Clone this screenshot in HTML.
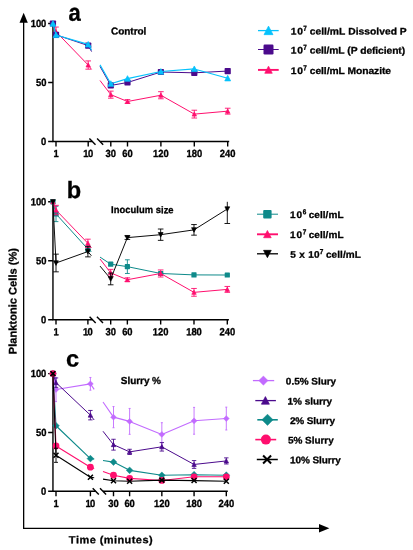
<!DOCTYPE html>
<html lang="en"><head><meta charset="utf-8"><title>Planktonic cells over time</title>
<style>html,body{margin:0;padding:0;background:#fff}svg{display:block;filter:blur(0.3px)}text{font-family:'Liberation Sans', sans-serif;fill:#000;stroke:#000;stroke-width:0.3px;font-weight:bold;font-kerning:none;white-space:pre}</style>
</head><body>
<svg width="413" height="550" viewBox="0 0 413 550">
<rect width="413" height="550" fill="#fff"/>
<g stroke="#000" stroke-width="1.3" fill="none"><path d="M23.65 21V528.35H320"/></g>
<path d="M23.65 12.7L27.8 22.8H19.5Z" fill="#000"/>
<path d="M329.4 528.3L319 532.6V524Z" fill="#000"/>
<text transform="translate(16.6 353.7) rotate(-90.03)" x="-0.49" y="0" font-size="11" letter-spacing="0.055">Planktonic Cells (%)</text>
<text transform="translate(68.83 543.2) rotate(0.03) scale(1 0.93)" font-size="11" letter-spacing="0.434">Time (minutes)</text>
<g stroke="#000" stroke-width="1.4" fill="none"><path d="M52.95 23V141.5" /><path d="M52.45 141.5H92.4M100.1 141.5H229.2" /><path d="M89.4 138.5L95.5 144.8" /><path d="M97.1 138.5L103.2 144.8" /><path d="M56 141.5v4.9M88.2 141.5v4.9M110.8 141.5v4.9M127.5 141.5v4.9M160.9 141.5v4.9M194.3 141.5v4.9M227.7 141.5v4.9M52.95 141.5h-4.8M52.95 82.5h-4.8M52.95 23.5h-4.8" /></g>
<g font-size="9.4"><text transform="translate(56 157.1) rotate(0.03) scale(1 1.1)" text-anchor="middle">1</text><text transform="translate(87.9 157.1) rotate(0.03) scale(1 1.1)" text-anchor="middle" letter-spacing="-0.6">10</text><text transform="translate(110.8 157.1) rotate(0.03) scale(1 1.1)" text-anchor="middle">30</text><text transform="translate(127.5 157.1) rotate(0.03) scale(1 1.1)" text-anchor="middle">60</text><text transform="translate(160.9 157.1) rotate(0.03) scale(1 1.1)" text-anchor="middle">120</text><text transform="translate(194.3 157.1) rotate(0.03) scale(1 1.1)" text-anchor="middle">180</text><text transform="translate(227.7 157.1) rotate(0.03) scale(1 1.1)" text-anchor="middle">240</text><text transform="translate(46.35 145) rotate(0.03) scale(1 1.1)" text-anchor="end">0</text><text transform="translate(46.35 86) rotate(0.03) scale(1 1.1)" text-anchor="end">50</text><text transform="translate(46.35 27) rotate(0.03) scale(1 1.1)" text-anchor="end">100</text></g>
<g><path d="M56 27.04V36.48M53.2 27.04h5.6M53.2 36.48h5.6M88.2 60.91V69.17M85.4 60.91h5.6M85.4 69.17h5.6M110.8 91.11V98.19M108 91.11h5.6M108 98.19h5.6M127.5 99.61V103.39M124.7 99.61h5.6M124.7 103.39h5.6M160.9 91.7V98.78M158.1 91.7h5.6M158.1 98.78h5.6M194.3 110.23V118.02M191.5 110.23h5.6M191.5 118.02h5.6M227.7 108.22V114.12M224.9 108.22h5.6M224.9 114.12h5.6" stroke="#FF0F6E" stroke-width="0.9" fill="none"/><path d="M52.95 23.5L56 31.76L88.2 65.04L91.6 69.49M100 80.5L110.8 94.65L127.5 101.5L160.9 95.24L194.3 114.12L227.7 111.17" stroke="#FF0F6E" stroke-width="1.0" fill="none" stroke-linejoin="round"/><path d="M50.75 25.48L55.15 25.48L52.95 21.3Z" fill="#FF0F6E" stroke="#FF0F6E" stroke-width="0.7" stroke-linejoin="round"/><path d="M53.8 33.74L58.2 33.74L56 29.56Z" fill="#FF0F6E" stroke="#FF0F6E" stroke-width="0.7" stroke-linejoin="round"/><path d="M86 67.02L90.4 67.02L88.2 62.84Z" fill="#FF0F6E" stroke="#FF0F6E" stroke-width="0.7" stroke-linejoin="round"/><path d="M108.6 96.63L113 96.63L110.8 92.45Z" fill="#FF0F6E" stroke="#FF0F6E" stroke-width="0.7" stroke-linejoin="round"/><path d="M125.3 103.48L129.7 103.48L127.5 99.3Z" fill="#FF0F6E" stroke="#FF0F6E" stroke-width="0.7" stroke-linejoin="round"/><path d="M158.7 97.22L163.1 97.22L160.9 93.04Z" fill="#FF0F6E" stroke="#FF0F6E" stroke-width="0.7" stroke-linejoin="round"/><path d="M192.1 116.1L196.5 116.1L194.3 111.92Z" fill="#FF0F6E" stroke="#FF0F6E" stroke-width="0.7" stroke-linejoin="round"/><path d="M225.5 113.15L229.9 113.15L227.7 108.97Z" fill="#FF0F6E" stroke="#FF0F6E" stroke-width="0.7" stroke-linejoin="round"/></g>
<g><path d="M52.95 23.5L56 34.83L88.2 45.57L91.6 51.57M100 66.39L110.8 85.45L127.5 82.5L160.9 72L194.3 72.82L227.7 71.05" stroke="#4B0A8C" stroke-width="1.0" fill="none" stroke-linejoin="round"/><rect x="49.85" y="20.4" width="6.2" height="6.2" rx="0.74" fill="#4B0A8C"/><rect x="52.9" y="31.73" width="6.2" height="6.2" rx="0.74" fill="#4B0A8C"/><rect x="85.1" y="42.47" width="6.2" height="6.2" rx="0.74" fill="#4B0A8C"/><rect x="107.7" y="82.35" width="6.2" height="6.2" rx="0.74" fill="#4B0A8C"/><rect x="124.4" y="79.4" width="6.2" height="6.2" rx="0.74" fill="#4B0A8C"/><rect x="157.8" y="68.9" width="6.2" height="6.2" rx="0.74" fill="#4B0A8C"/><rect x="191.2" y="69.72" width="6.2" height="6.2" rx="0.74" fill="#4B0A8C"/><rect x="224.6" y="67.95" width="6.2" height="6.2" rx="0.74" fill="#4B0A8C"/></g>
<g><path d="M52.95 23.5L56 34.95L88.2 44.39L91.6 50.3M100 64.9L110.8 83.68L127.5 78.61L160.9 71.53L194.3 68.93L227.7 78.25" stroke="#06C2FC" stroke-width="1.15" fill="none" stroke-linejoin="round"/><path d="M50 26.16L55.9 26.16L52.95 20.55Z" fill="#06C2FC" stroke="#06C2FC" stroke-width="0.7" stroke-linejoin="round"/><path d="M53.05 37.6L58.95 37.6L56 32Z" fill="#06C2FC" stroke="#06C2FC" stroke-width="0.7" stroke-linejoin="round"/><path d="M85.25 47.04L91.15 47.04L88.2 41.44Z" fill="#06C2FC" stroke="#06C2FC" stroke-width="0.7" stroke-linejoin="round"/><path d="M107.85 86.34L113.75 86.34L110.8 80.73Z" fill="#06C2FC" stroke="#06C2FC" stroke-width="0.7" stroke-linejoin="round"/><path d="M124.55 81.26L130.45 81.26L127.5 75.66Z" fill="#06C2FC" stroke="#06C2FC" stroke-width="0.7" stroke-linejoin="round"/><path d="M157.95 74.18L163.85 74.18L160.9 68.58Z" fill="#06C2FC" stroke="#06C2FC" stroke-width="0.7" stroke-linejoin="round"/><path d="M191.35 71.59L197.25 71.59L194.3 65.98Z" fill="#06C2FC" stroke="#06C2FC" stroke-width="0.7" stroke-linejoin="round"/><path d="M224.75 80.91L230.65 80.91L227.7 75.3Z" fill="#06C2FC" stroke="#06C2FC" stroke-width="0.7" stroke-linejoin="round"/></g>
<text transform="translate(68.4 20.7) rotate(0.03) scale(1 1.1)" font-size="22">a</text>
<text transform="translate(111.04 34.5) rotate(0.03) scale(1 1.0)" font-size="10" letter-spacing="-0.038">Control</text>
<g stroke="#000" stroke-width="1.4" fill="none"><path d="M52.95 201.3V319.7" /><path d="M52.45 319.7H92.6M99.9 319.7H228.9" /><path d="M89.6 316.7L95.7 323" /><path d="M96.9 316.7L103 323" /><path d="M56 319.7v4.9M87.9 319.7v4.9M110.7 319.7v4.9M127.36 319.7v4.9M160.67 319.7v4.9M193.99 319.7v4.9M227.3 319.7v4.9M52.95 319.7h-4.8M52.95 260.75h-4.8M52.95 201.8h-4.8" /></g>
<g font-size="9.4"><text transform="translate(56 335.3) rotate(0.03) scale(1 1.1)" text-anchor="middle">1</text><text transform="translate(87.6 335.3) rotate(0.03) scale(1 1.1)" text-anchor="middle" letter-spacing="-0.6">10</text><text transform="translate(110.7 335.3) rotate(0.03) scale(1 1.1)" text-anchor="middle">30</text><text transform="translate(127.36 335.3) rotate(0.03) scale(1 1.1)" text-anchor="middle">60</text><text transform="translate(160.67 335.3) rotate(0.03) scale(1 1.1)" text-anchor="middle">120</text><text transform="translate(193.99 335.3) rotate(0.03) scale(1 1.1)" text-anchor="middle">180</text><text transform="translate(227.3 335.3) rotate(0.03) scale(1 1.1)" text-anchor="middle">240</text><text transform="translate(46.35 323.2) rotate(0.03) scale(1 1.1)" text-anchor="end">0</text><text transform="translate(46.35 264.25) rotate(0.03) scale(1 1.1)" text-anchor="end">50</text><text transform="translate(46.35 205.3) rotate(0.03) scale(1 1.1)" text-anchor="end">100</text></g>
<g><path d="M56 206.28V221.61M53.6 206.28h4.8M53.6 221.61h4.8M87.9 246.72V251.44M85.5 246.72h4.8M85.5 251.44h4.8M110.7 262.99V265.35M108.3 262.99h4.8M108.3 265.35h4.8M127.36 259.81V273.48M124.96 259.81h4.8M124.96 273.48h4.8M160.67 272.3V274.66M158.27 272.3h4.8M158.27 274.66h4.8" stroke="#0E8A8A" stroke-width="0.9" fill="none"/><path d="M52.95 201.8L56 213.94L87.9 249.08L91.4 251.39M100 257.09L110.7 264.17L127.36 266.64L160.67 273.48L193.99 274.9L227.3 275.02" stroke="#0E8A8A" stroke-width="1.0" fill="none" stroke-linejoin="round"/><rect x="50.35" y="199.2" width="5.2" height="5.2" rx="0.62" fill="#0E8A8A"/><rect x="53.4" y="211.34" width="5.2" height="5.2" rx="0.62" fill="#0E8A8A"/><rect x="85.3" y="246.48" width="5.2" height="5.2" rx="0.62" fill="#0E8A8A"/><rect x="108.1" y="261.57" width="5.2" height="5.2" rx="0.62" fill="#0E8A8A"/><rect x="124.76" y="264.04" width="5.2" height="5.2" rx="0.62" fill="#0E8A8A"/><rect x="158.07" y="270.88" width="5.2" height="5.2" rx="0.62" fill="#0E8A8A"/><rect x="191.39" y="272.3" width="5.2" height="5.2" rx="0.62" fill="#0E8A8A"/><rect x="224.7" y="272.42" width="5.2" height="5.2" rx="0.62" fill="#0E8A8A"/></g>
<g><path d="M56 205.34V214.77M53.2 205.34h5.6M53.2 214.77h5.6M87.9 239.17V247.43M85.1 239.17h5.6M85.1 247.43h5.6M110.7 269.36V276.43M107.9 269.36h5.6M107.9 276.43h5.6M127.36 277.85V281.62M124.56 277.85h5.6M124.56 281.62h5.6M160.67 269.95V277.02M157.87 269.95h5.6M157.87 277.02h5.6M193.99 288.46V296.24M191.19 288.46h5.6M191.19 296.24h5.6M227.3 286.45V292.35M224.5 286.45h5.6M224.5 292.35h5.6" stroke="#FF0F6E" stroke-width="0.9" fill="none"/><path d="M52.95 201.8L56 210.05L87.9 243.3L91.4 247.84M100 259.01L110.7 272.89L127.36 279.73L160.67 273.48L193.99 292.35L227.3 289.4" stroke="#FF0F6E" stroke-width="1.0" fill="none" stroke-linejoin="round"/><path d="M50.75 203.78L55.15 203.78L52.95 199.6Z" fill="#FF0F6E" stroke="#FF0F6E" stroke-width="0.7" stroke-linejoin="round"/><path d="M53.8 212.03L58.2 212.03L56 207.85Z" fill="#FF0F6E" stroke="#FF0F6E" stroke-width="0.7" stroke-linejoin="round"/><path d="M85.7 245.28L90.1 245.28L87.9 241.1Z" fill="#FF0F6E" stroke="#FF0F6E" stroke-width="0.7" stroke-linejoin="round"/><path d="M108.5 274.87L112.9 274.87L110.7 270.69Z" fill="#FF0F6E" stroke="#FF0F6E" stroke-width="0.7" stroke-linejoin="round"/><path d="M125.16 281.71L129.56 281.71L127.36 277.53Z" fill="#FF0F6E" stroke="#FF0F6E" stroke-width="0.7" stroke-linejoin="round"/><path d="M158.47 275.46L162.87 275.46L160.67 271.28Z" fill="#FF0F6E" stroke="#FF0F6E" stroke-width="0.7" stroke-linejoin="round"/><path d="M191.79 294.33L196.19 294.33L193.99 290.15Z" fill="#FF0F6E" stroke="#FF0F6E" stroke-width="0.7" stroke-linejoin="round"/><path d="M225.1 291.38L229.5 291.38L227.3 287.2Z" fill="#FF0F6E" stroke="#FF0F6E" stroke-width="0.7" stroke-linejoin="round"/></g>
<g><path d="M56 254.15V271.83M53.2 254.15h5.6M53.2 271.83h5.6M87.9 246.25V256.86M85.1 246.25h5.6M85.1 256.86h5.6M110.7 273.01V284.8M107.9 273.01h5.6M107.9 284.8h5.6M127.36 235.87V239.41M124.56 235.87h5.6M124.56 239.41h5.6M160.67 229.03V240.35M157.87 229.03h5.6M157.87 240.35h5.6M193.99 224.55V235.17M191.19 224.55h5.6M191.19 235.17h5.6M227.3 201.8V223.49M224.5 223.49h5.6" stroke="#000000" stroke-width="0.9" fill="none"/><path d="M52.95 201.8L56 262.99L87.9 251.55L91.4 255.75M100 266.07L110.7 278.91L127.36 237.64L160.67 234.69L193.99 229.86L227.3 208.99" stroke="#000000" stroke-width="0.95" fill="none" stroke-linejoin="round"/><path d="M50.55 199.64L55.35 199.64L52.95 204.2Z" fill="#000000" stroke="#000000" stroke-width="0.7" stroke-linejoin="round"/><path d="M53.6 260.83L58.4 260.83L56 265.39Z" fill="#000000" stroke="#000000" stroke-width="0.7" stroke-linejoin="round"/><path d="M85.5 249.39L90.3 249.39L87.9 253.95Z" fill="#000000" stroke="#000000" stroke-width="0.7" stroke-linejoin="round"/><path d="M108.3 276.75L113.1 276.75L110.7 281.31Z" fill="#000000" stroke="#000000" stroke-width="0.7" stroke-linejoin="round"/><path d="M124.96 235.48L129.76 235.48L127.36 240.04Z" fill="#000000" stroke="#000000" stroke-width="0.7" stroke-linejoin="round"/><path d="M158.27 232.53L163.07 232.53L160.67 237.09Z" fill="#000000" stroke="#000000" stroke-width="0.7" stroke-linejoin="round"/><path d="M191.59 227.7L196.39 227.7L193.99 232.26Z" fill="#000000" stroke="#000000" stroke-width="0.7" stroke-linejoin="round"/><path d="M224.9 206.83L229.7 206.83L227.3 211.39Z" fill="#000000" stroke="#000000" stroke-width="0.7" stroke-linejoin="round"/></g>
<text transform="translate(66.8 198.1) rotate(0.03) scale(1 1.0)" font-size="23.6">b</text>
<text transform="translate(111.02 213.1) rotate(0.03) scale(1 1.04)" font-size="9.4" letter-spacing="0.041">Inoculum size</text>
<g stroke="#000" stroke-width="1.4" fill="none"><path d="M52.95 373.1V491.3" /><path d="M52.45 491.3H95.7M103 491.3H227.8" /><path d="M92.7 488.3L98.8 494.6" /><path d="M100 488.3L106.1 494.6" /><path d="M56 491.3v4.9M90.4 491.3v4.9M113.5 491.3v4.9M129.61 491.3v4.9M161.84 491.3v4.9M194.07 491.3v4.9M226.3 491.3v4.9M52.95 491.3h-4.8M52.95 432.45h-4.8M52.95 373.6h-4.8" /></g>
<g font-size="9.4"><text transform="translate(56 506.9) rotate(0.03) scale(1 1.1)" text-anchor="middle">1</text><text transform="translate(90.1 506.9) rotate(0.03) scale(1 1.1)" text-anchor="middle" letter-spacing="-0.6">10</text><text transform="translate(113.5 506.9) rotate(0.03) scale(1 1.1)" text-anchor="middle">30</text><text transform="translate(129.61 506.9) rotate(0.03) scale(1 1.1)" text-anchor="middle">60</text><text transform="translate(161.84 506.9) rotate(0.03) scale(1 1.1)" text-anchor="middle">120</text><text transform="translate(194.07 506.9) rotate(0.03) scale(1 1.1)" text-anchor="middle">180</text><text transform="translate(226.3 506.9) rotate(0.03) scale(1 1.1)" text-anchor="middle">240</text><text transform="translate(46.35 494.8) rotate(0.03) scale(1 1.1)" text-anchor="end">0</text><text transform="translate(46.35 435.95) rotate(0.03) scale(1 1.1)" text-anchor="end">50</text><text transform="translate(46.35 377.1) rotate(0.03) scale(1 1.1)" text-anchor="end">100</text></g>
<g><path d="M56 377.37V401.61M55 377.37h2M55 401.61h2M90.4 377.48V390.2M89.4 377.48h2M89.4 390.2h2M113.5 406.56V427.74M112.5 406.56h2M112.5 427.74h2M129.61 408.44V434.33M128.61 408.44h2M128.61 434.33h2M161.84 422.68V446.22M160.84 422.68h2M160.84 446.22h2M194.07 407.38V434.22M193.07 407.38h2M193.07 434.22h2M226.3 407.14V429.98M225.3 407.14h2M225.3 429.98h2" stroke="#C26BFF" stroke-width="0.9" fill="none"/><path d="M52.95 373.6L56 389.49L90.4 383.84L94.2 389.32M103 402.01L113.5 417.15L129.61 421.39L161.84 434.45L194.07 420.8L226.3 418.56" stroke="#C26BFF" stroke-width="1.1" fill="none" stroke-linejoin="round"/><path d="M50.05 373.6L52.95 370.7L55.85 373.6L52.95 376.5Z" fill="#C26BFF" stroke="#C26BFF" stroke-width="0.5" stroke-linejoin="round"/><path d="M53.1 389.49L56 386.59L58.9 389.49L56 392.39Z" fill="#C26BFF" stroke="#C26BFF" stroke-width="0.5" stroke-linejoin="round"/><path d="M87.5 383.84L90.4 380.94L93.3 383.84L90.4 386.74Z" fill="#C26BFF" stroke="#C26BFF" stroke-width="0.5" stroke-linejoin="round"/><path d="M110.6 417.15L113.5 414.25L116.4 417.15L113.5 420.05Z" fill="#C26BFF" stroke="#C26BFF" stroke-width="0.5" stroke-linejoin="round"/><path d="M126.71 421.39L129.61 418.49L132.51 421.39L129.61 424.29Z" fill="#C26BFF" stroke="#C26BFF" stroke-width="0.5" stroke-linejoin="round"/><path d="M158.94 434.45L161.84 431.55L164.74 434.45L161.84 437.35Z" fill="#C26BFF" stroke="#C26BFF" stroke-width="0.5" stroke-linejoin="round"/><path d="M191.17 420.8L194.07 417.9L196.97 420.8L194.07 423.7Z" fill="#C26BFF" stroke="#C26BFF" stroke-width="0.5" stroke-linejoin="round"/><path d="M223.4 418.56L226.3 415.66L229.2 418.56L226.3 421.46Z" fill="#C26BFF" stroke="#C26BFF" stroke-width="0.5" stroke-linejoin="round"/></g>
<g><path d="M56 377.95V387.37M53.8 377.95h4.4M53.8 387.37h4.4M90.4 410.44V419.86M88.2 410.44h4.4M88.2 419.86h4.4M113.5 439.28V450.11M111.3 439.28h4.4M111.3 450.11h4.4M129.61 449.28V454.46M127.41 449.28h4.4M127.41 454.46h4.4M161.84 442.57V451.05M159.64 442.57h4.4M159.64 451.05h4.4M194.07 460.58V468.35M191.87 460.58h4.4M191.87 468.35h4.4M226.3 457.87V463.99M224.1 457.87h4.4M224.1 463.99h4.4" stroke="#4B0A8C" stroke-width="0.9" fill="none"/><path d="M52.95 373.6L56 382.66L90.4 415.15L94.2 420.01M103 431.26L113.5 444.69L129.61 451.87L161.84 446.81L194.07 464.46L226.3 460.93" stroke="#4B0A8C" stroke-width="1.0" fill="none" stroke-linejoin="round"/><path d="M50.75 375.58L55.15 375.58L52.95 371.4Z" fill="#4B0A8C" stroke="#4B0A8C" stroke-width="0.7" stroke-linejoin="round"/><path d="M53.8 384.64L58.2 384.64L56 380.46Z" fill="#4B0A8C" stroke="#4B0A8C" stroke-width="0.7" stroke-linejoin="round"/><path d="M88.2 417.13L92.6 417.13L90.4 412.95Z" fill="#4B0A8C" stroke="#4B0A8C" stroke-width="0.7" stroke-linejoin="round"/><path d="M111.3 446.67L115.7 446.67L113.5 442.49Z" fill="#4B0A8C" stroke="#4B0A8C" stroke-width="0.7" stroke-linejoin="round"/><path d="M127.41 453.85L131.81 453.85L129.61 449.67Z" fill="#4B0A8C" stroke="#4B0A8C" stroke-width="0.7" stroke-linejoin="round"/><path d="M159.64 448.79L164.04 448.79L161.84 444.61Z" fill="#4B0A8C" stroke="#4B0A8C" stroke-width="0.7" stroke-linejoin="round"/><path d="M191.87 466.44L196.27 466.44L194.07 462.26Z" fill="#4B0A8C" stroke="#4B0A8C" stroke-width="0.7" stroke-linejoin="round"/><path d="M224.1 462.91L228.5 462.91L226.3 458.73Z" fill="#4B0A8C" stroke="#4B0A8C" stroke-width="0.7" stroke-linejoin="round"/></g>
<g><path d="M52.95 373.6L56 425.74L90.4 458.58L94.2 459.16M103 460.51L113.5 462.11L129.61 470.35L161.84 475.29L194.07 474.7L226.3 475.18" stroke="#0E8A8A" stroke-width="1.1" fill="none" stroke-linejoin="round"/><path d="M49.6 373.6L52.95 370.25L56.3 373.6L52.95 376.95Z" fill="#0E8A8A" stroke="#0E8A8A" stroke-width="0.5" stroke-linejoin="round"/><path d="M52.65 425.74L56 422.39L59.35 425.74L56 429.09Z" fill="#0E8A8A" stroke="#0E8A8A" stroke-width="0.5" stroke-linejoin="round"/><path d="M87.05 458.58L90.4 455.23L93.75 458.58L90.4 461.93Z" fill="#0E8A8A" stroke="#0E8A8A" stroke-width="0.5" stroke-linejoin="round"/><path d="M110.15 462.11L113.5 458.76L116.85 462.11L113.5 465.46Z" fill="#0E8A8A" stroke="#0E8A8A" stroke-width="0.5" stroke-linejoin="round"/><path d="M126.26 470.35L129.61 467L132.96 470.35L129.61 473.7Z" fill="#0E8A8A" stroke="#0E8A8A" stroke-width="0.5" stroke-linejoin="round"/><path d="M158.49 475.29L161.84 471.94L165.19 475.29L161.84 478.64Z" fill="#0E8A8A" stroke="#0E8A8A" stroke-width="0.5" stroke-linejoin="round"/><path d="M190.72 474.7L194.07 471.35L197.42 474.7L194.07 478.05Z" fill="#0E8A8A" stroke="#0E8A8A" stroke-width="0.5" stroke-linejoin="round"/><path d="M222.95 475.18L226.3 471.83L229.65 475.18L226.3 478.53Z" fill="#0E8A8A" stroke="#0E8A8A" stroke-width="0.5" stroke-linejoin="round"/></g>
<g><path d="M52.95 373.6L56 445.99L90.4 467.17L94.2 468.49M103 471.54L113.5 475.18L129.61 478.35L161.84 480.47L194.07 476.82L226.3 476.82" stroke="#FF0F6E" stroke-width="1.1" fill="none" stroke-linejoin="round"/><circle cx="52.95" cy="373.6" r="3.4" fill="#FF0F6E"/><circle cx="56" cy="445.99" r="3.4" fill="#FF0F6E"/><circle cx="90.4" cy="467.17" r="3.4" fill="#FF0F6E"/><circle cx="113.5" cy="475.18" r="3.4" fill="#FF0F6E"/><circle cx="129.61" cy="478.35" r="3.4" fill="#FF0F6E"/><circle cx="161.84" cy="480.47" r="3.4" fill="#FF0F6E"/><circle cx="194.07" cy="476.82" r="3.4" fill="#FF0F6E"/><circle cx="226.3" cy="476.82" r="3.4" fill="#FF0F6E"/></g>
<g><path d="M56 448.22V462.35M54 448.22h4M54 462.35h4" stroke="#000000" stroke-width="0.9" fill="none"/><path d="M52.95 373.6L56 455.28L90.4 477.18L94.2 477.76M103 479.1L113.5 480.71L129.61 481.18L161.84 480.12L194.07 480.59L226.3 481.18" stroke="#000000" stroke-width="1.1" fill="none" stroke-linejoin="round"/><path d="M50.45 371.1L55.45 376.1M50.45 376.1L55.45 371.1" stroke="#000000" stroke-width="1.5" fill="none"/><path d="M53.5 452.78L58.5 457.78M53.5 457.78L58.5 452.78" stroke="#000000" stroke-width="1.5" fill="none"/><path d="M87.9 474.68L92.9 479.68M87.9 479.68L92.9 474.68" stroke="#000000" stroke-width="1.5" fill="none"/><path d="M111 478.21L116 483.21M111 483.21L116 478.21" stroke="#000000" stroke-width="1.5" fill="none"/><path d="M127.11 478.68L132.11 483.68M127.11 483.68L132.11 478.68" stroke="#000000" stroke-width="1.5" fill="none"/><path d="M159.34 477.62L164.34 482.62M159.34 482.62L164.34 477.62" stroke="#000000" stroke-width="1.5" fill="none"/><path d="M191.57 478.09L196.57 483.09M191.57 483.09L196.57 478.09" stroke="#000000" stroke-width="1.5" fill="none"/><path d="M223.8 478.68L228.8 483.68M223.8 483.68L228.8 478.68" stroke="#000000" stroke-width="1.5" fill="none"/></g>
<text transform="translate(65.9 366.6) rotate(0.03) scale(1 0.98)" font-size="23.6">c</text>
<path d="M258 30.6H278.7" stroke="#06C2FC" stroke-width="1.3"/>
<path d="M264 34.65L273 34.65L268.5 26.1Z" fill="#06C2FC" stroke="#06C2FC" stroke-width="0.7" stroke-linejoin="round"/>
<text transform="translate(290.8 34.5) rotate(0.03) scale(1 0.9320388349514562)" font-size="10.3" letter-spacing="0.715">10</text>
<text transform="translate(303.18 30.7) rotate(0.03) scale(1 1.12)" font-size="6.4" letter-spacing="0.000">7</text>
<text transform="translate(309.75 34.5) rotate(0.03) scale(1 0.9320388349514562)" font-size="10.3" letter-spacing="0.023">cell/mL Dissolved P</text>
<path d="M258 49.5H278.7" stroke="#4B0A8C" stroke-width="1.0"/>
<rect x="263.5" y="44.5" width="10" height="10" rx="1.2" fill="#4B0A8C"/>
<text transform="translate(290.8 53.6) rotate(0.03) scale(1 0.9320388349514562)" font-size="10.3" letter-spacing="0.715">10</text>
<text transform="translate(303.18 49.8) rotate(0.03) scale(1 1.12)" font-size="6.4" letter-spacing="0.000">7</text>
<text transform="translate(309.75 53.6) rotate(0.03) scale(1 0.9320388349514562)" font-size="10.3" letter-spacing="-0.089">cell/mL (P deficient)</text>
<path d="M258 69.9H278.7" stroke="#FF0F6E" stroke-width="1.9"/>
<path d="M264.75 73.28L272.25 73.28L268.5 66.15Z" fill="#FF0F6E" stroke="#FF0F6E" stroke-width="0.7" stroke-linejoin="round"/>
<text transform="translate(290.8 74) rotate(0.03) scale(1 0.9320388349514562)" font-size="10.3" letter-spacing="0.715">10</text>
<text transform="translate(303.18 70.2) rotate(0.03) scale(1 1.12)" font-size="6.4" letter-spacing="0.000">7</text>
<text transform="translate(309.75 74) rotate(0.03) scale(1 0.9320388349514562)" font-size="10.3" letter-spacing="-0.064">cell/mL Monazite</text>
<path d="M257 214.2H278" stroke="#0E8A8A" stroke-width="1.0"/>
<rect x="263.2" y="210" width="8.4" height="8.4" rx="1.01" fill="#0E8A8A"/>
<text transform="translate(290.02 218.1) rotate(0.03) scale(1 0.96)" font-size="10.0" letter-spacing="1.017">10</text>
<text transform="translate(302.72 214.3) rotate(0.03) scale(1 1.12)" font-size="6.4" letter-spacing="0.000">6</text>
<text transform="translate(308.66 218.1) rotate(0.03) scale(1 0.96)" font-size="10.0" letter-spacing="0.073">cell/mL</text>
<path d="M257 234.3H278" stroke="#FF0F6E" stroke-width="1.9"/>
<path d="M263.6 237.72L271.2 237.72L267.4 230.5Z" fill="#FF0F6E" stroke="#FF0F6E" stroke-width="0.7" stroke-linejoin="round"/>
<text transform="translate(290.02 238.1) rotate(0.03) scale(1 0.96)" font-size="10.0" letter-spacing="1.017">10</text>
<text transform="translate(302.68 234.3) rotate(0.03) scale(1 1.12)" font-size="6.4" letter-spacing="0.000">7</text>
<text transform="translate(308.66 238.1) rotate(0.03) scale(1 0.96)" font-size="10.0" letter-spacing="0.073">cell/mL</text>
<path d="M257 253.8H278" stroke="#000000" stroke-width="1.3"/>
<path d="M263.55 250.34L271.25 250.34L267.4 257.65Z" fill="#000000" stroke="#000000" stroke-width="0.7" stroke-linejoin="round"/>
<text transform="translate(290.34 257.8) rotate(0.03) scale(1 0.96)" font-size="10.0" letter-spacing="0.303">5 x 10</text>
<text transform="translate(319.68 254) rotate(0.03) scale(1 1.12)" font-size="6.4" letter-spacing="0.000">7</text>
<text transform="translate(325.96 257.8) rotate(0.03) scale(1 0.96)" font-size="10.0" letter-spacing="0.090">cell/mL</text>
<path d="M252.9 380.6H274.2" stroke="#C26BFF" stroke-width="1.3"/>
<path d="M258.8 380.6L263.4 376L268 380.6L263.4 385.2Z" fill="#C26BFF" stroke="#C26BFF" stroke-width="0.5" stroke-linejoin="round"/>
<text transform="translate(285.85 384.4) rotate(0.03) scale(1 0.96)" font-size="10.0" letter-spacing="-0.026">0.5% Slury</text>
<path d="M255.3 400.6H275.9" stroke="#4B0A8C" stroke-width="1.3"/>
<path d="M261.4 404.2L269.4 404.2L265.4 396.6Z" fill="#4B0A8C" stroke="#4B0A8C" stroke-width="0.7" stroke-linejoin="round"/>
<text transform="translate(287.62 404.4) rotate(0.03) scale(1 0.96)" font-size="10.0" letter-spacing="-0.055">1% slurry</text>
<path d="M257.3 419.8H277.8" stroke="#0E8A8A" stroke-width="1.6"/>
<path d="M261.9 419.8L267.5 414.2L273.1 419.8L267.5 425.4Z" fill="#0E8A8A" stroke="#0E8A8A" stroke-width="0.5" stroke-linejoin="round"/>
<text transform="translate(289.9 424.1) rotate(0.03) scale(1 0.96)" font-size="10.0" letter-spacing="-0.104">2% Slurry</text>
<path d="M255.3 439.6H276.2" stroke="#FF0F6E" stroke-width="1.6"/>
<circle cx="265.9" cy="439.6" r="5" fill="#FF0F6E"/>
<text transform="translate(287.94 443.5) rotate(0.03) scale(1 0.96)" font-size="10.0" letter-spacing="-0.034">5% Slurry</text>
<path d="M256.8 459.5H277.8" stroke="#000000" stroke-width="1.5"/>
<path d="M263.1 455.5L271.1 463.5M263.1 463.5L271.1 455.5" stroke="#000000" stroke-width="2.0" fill="none"/>
<text transform="translate(290.02 463.2) rotate(0.03) scale(1 0.96)" font-size="10.0" letter-spacing="-0.101">10% Slurry</text>
<text transform="translate(120.86 384.1) rotate(0.03) scale(1 1.02)" font-size="10" letter-spacing="-0.060">Slurry %</text>
</svg>
</body></html>
